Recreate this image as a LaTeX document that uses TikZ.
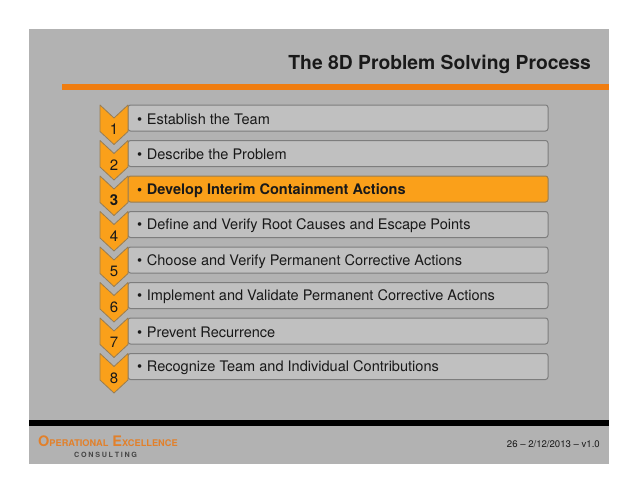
\documentclass[tikz,border=0pt]{standalone}
\usepackage{fontspec}
\setmainfont{TeX Gyre Heros}
\definecolor{slidebg}{RGB}{178,178,178}
\definecolor{boxfill}{RGB}{192,192,192}
\definecolor{boxline}{RGB}{125,125,125}
\definecolor{hiorange}{RGB}{250,160,26}
\definecolor{chevline}{RGB}{150,125,85}
\definecolor{barorange}{RGB}{240,125,16}
\definecolor{logoorange}{RGB}{226,128,42}
\definecolor{logogrey}{RGB}{70,70,70}
\definecolor{inktext}{RGB}{25,25,25}
\tikzset{
  stepbox/.style={draw=boxline,line width=1pt,fill=boxfill,rounded corners=2.5pt,minimum width=420pt,minimum height=26pt,anchor=north west,inner sep=0pt,outer sep=0pt},
  hibox/.style={stepbox,fill=hiorange,draw=chevline},
  steptext/.style={anchor=west,inner sep=0pt,font=\fontsize{14.55}{16}\selectfont,text=inktext},
  chevshape/.style={draw=chevline,line width=0.8pt,fill=hiorange,line join=round},
  numtext/.style={inner sep=0pt,font=\fontsize{15}{17}\selectfont,text=inktext},
}
\newcommand{\stepitem}[5]{%
  % #1 id, #2 top y, #3 box style, #4 text, #5 number
  \node[#3] (box#1) at (128,#2) {};
  \path[chevshape] (100,#2) -- (114,#2+13) -- (128,#2) -- (128,#2+26.5) -- (114,#2+39.5) -- (100,#2+26.5) -- cycle;
  \node[numtext] (num#1) at (114,#2+24.5) {#5};
  \node[steptext] (text#1) at (137,#2+14.3) {#4};
}
\begin{document}
\begin{tikzpicture}[x=1pt,y=-1pt]
\useasboundingbox (0,0) rectangle (638,493);
\fill[white] (0,0) rectangle (638,493);
\fill[slidebg] (29,29) rectangle (609,464);
\fill[barorange] (62,84) rectangle (609,90);
\fill[black] (29,420) rectangle (609,426);
\node[anchor=east,inner sep=0pt,font=\bfseries\fontsize{19.3}{22}\selectfont,text=inktext] (title) at (591,64) {The 8D Problem Solving Process};
\stepitem{1}{105}{stepbox}{•\hspace{4.6pt}Establish the Team}{1}
\stepitem{2}{140.5}{stepbox}{•\hspace{4.6pt}Describe the Problem}{2}
\stepitem{3}{176}{hibox}{\textbf{•\hspace{4.6pt}Develop Interim Containment Actions}}{\textbf{3}}
\stepitem{4}{211.5}{stepbox}{•\hspace{4.6pt}Define and Verify Root Causes and Escape Points}{4}
\stepitem{5}{247}{stepbox}{•\hspace{4.6pt}Choose and Verify Permanent Corrective Actions}{5}
\stepitem{6}{282.5}{stepbox}{•\hspace{4.6pt}Implement and Validate Permanent Corrective Actions}{6}
\stepitem{7}{318}{stepbox}{•\hspace{4.6pt}Prevent Recurrence}{7}
\stepitem{8}{353.5}{stepbox}{•\hspace{4.6pt}Recognize Team and Individual Contributions}{8}
\node[anchor=base west,inner sep=0pt,text=logoorange,font=\bfseries] (logo) at (38,446.5) {{\fontsize{14.5}{16}\selectfont O}{\fontsize{9.2}{12}\selectfont PERATIONAL}\hspace{4pt}{\fontsize{14.5}{16}\selectfont E}{\fontsize{9.2}{12}\selectfont XCELLENCE}};
\node[anchor=base west,inner sep=0pt,text=logogrey,font=\bfseries\fontsize{7.2}{9}\selectfont] (consult) at (74,457) {C\hspace{1.7pt}O\hspace{1.7pt}N\hspace{1.7pt}S\hspace{1.7pt}U\hspace{1.7pt}L\hspace{1.7pt}T\hspace{1.7pt}I\hspace{1.7pt}N\hspace{1.7pt}G};
\node[anchor=east,inner sep=0pt,text=inktext,font=\fontsize{9.6}{12}\selectfont] (foot) at (600,444) {26 – 2/12/2013 – v1.0};
\end{tikzpicture}
\end{document}
